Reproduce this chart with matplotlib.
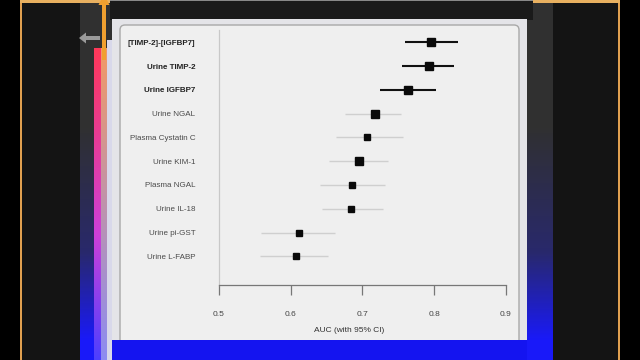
import numpy as np
import matplotlib
matplotlib.use("Agg")
import matplotlib.pyplot as plt
from matplotlib.patches import Rectangle, FancyBboxPatch, FancyArrow

plt.rcParams['font.family'] = ['Liberation Sans', 'DejaVu Sans']

# ---- data ----
markers = ["[TIMP-2]-[IGFBP7]", "Urine TIMP-2", "Urine IGFBP7", "Urine NGAL",
           "Plasma Cystatin C", "Urine KIM-1", "Plasma NGAL", "Urine IL-18",
           "Urine pi-GST", "Urine L-FABP"]
auc = [0.795, 0.792, 0.764, 0.717, 0.706, 0.695, 0.686, 0.684, 0.611, 0.608]
ci_low = [0.759, 0.755, 0.725, 0.676, 0.663, 0.653, 0.641, 0.644, 0.559, 0.557]
ci_high = [0.833, 0.828, 0.803, 0.754, 0.756, 0.736, 0.732, 0.729, 0.662, 0.652]
highlight = [True, True, True, False, False, False, False, False, False, False]
xticks = [0.5, 0.6, 0.7, 0.8, 0.9]
xlabel = "AUC (with 95% CI)"

# style
msizes = [6.2, 6.2, 6.2, 5.6, 5.0, 5.6, 4.6, 5.0, 5.0, 5.0]

W, H = 640, 360
fig = plt.figure(figsize=(6.4, 3.6), dpi=100)
fig.patch.set_facecolor("black")

# ---- background (slide decoration) ----
bg = fig.add_axes([0, 0, 1, 1])
bg.set_xlim(0, W)
bg.set_ylim(H, 0)
bg.axis("off")

bg.add_patch(Rectangle((21, 0), 599, 360, color="#141414", lw=0))
# central gradient gray -> blue
ny = 200
t = np.linspace(0, 1, ny)[:, None]
top = np.array([0.19, 0.19, 0.19])
mid = np.array([0.16, 0.16, 0.42])
bot = np.array([0.10, 0.10, 0.98])
w1 = np.clip((t - 0.35) / 0.35, 0, 1)
w2 = np.clip((t - 0.70) / 0.25, 0, 1)
col = top * (1 - w1) + mid * w1
col = col * (1 - w2) + bot * w2
grad = np.repeat(col[:, None, :], 2, axis=1)
bg.imshow(grad, extent=(80, 553, 360, 0), aspect="auto", zorder=1)

# orange frame lines
bg.add_patch(Rectangle((20, 0), 1.5, 360, color="#e0a050", lw=0, zorder=2))
bg.add_patch(Rectangle((618, 0), 1.5, 360, color="#e0a050", lw=0, zorder=2))
bg.add_patch(Rectangle((20, 0), 90, 3, color="#e8b060", lw=0, zorder=2))
bg.add_patch(Rectangle((533, 0), 87, 3, color="#e8b060", lw=0, zorder=2))
bg.add_patch(Rectangle((110, 0), 423, 20, color="#1a1a1a", lw=0, zorder=2))
bg.add_patch(Rectangle((110, 0), 423, 1.2, color="#888888", lw=0, zorder=2))

# colorful vertical bar on left
nb = 200
tb = np.linspace(0, 1, nb)[:, None]
c_top = np.array([1.0, 0.22, 0.35])
c_mid = np.array([0.80, 0.25, 0.85])
c_bot = np.array([0.30, 0.25, 1.0])
wa = np.clip(tb / 0.6, 0, 1)
wb = np.clip((tb - 0.6) / 0.4, 0, 1)
cb = c_top * (1 - wa) + c_mid * wa
cb = cb * (1 - wb) + c_bot * wb
bar = np.repeat(cb[:, None, :], 2, axis=1)
bg.imshow(bar, extent=(94, 101, 360, 48), aspect="auto", zorder=3)
cl_top = np.array([0.95, 0.60, 0.40])
cl_bot = np.array([0.55, 0.55, 0.95])
cl = cl_top * (1 - tb) + cl_bot * tb
bar2 = np.repeat(cl[:, None, :], 2, axis=1)
bg.imshow(bar2, extent=(101, 107, 360, 48), aspect="auto", zorder=3)
bg.add_patch(Rectangle((107, 40), 5, 320, color="#d8d8ea", lw=0, zorder=3))

# arrows
bg.add_patch(FancyArrow(100, 38, -14, 0, width=4, head_width=11, head_length=7,
                        color="#9a9a9a", lw=0, zorder=4))
bg.add_patch(FancyArrow(104, 60, 0, -55, width=4, head_width=11, head_length=11,
                        color="#f0a030", lw=0, zorder=5))

# panel
bg.add_patch(Rectangle((112, 19), 415, 323, color="#e4e4e8", lw=0, zorder=4))
bg.add_patch(FancyBboxPatch((120, 25), 399, 330,
                            boxstyle="round,pad=0,rounding_size=5",
                            fc="#efefef", ec="#a8a8a8", lw=1.0, zorder=5))
bg.add_patch(Rectangle((112, 340), 415, 20, color="#1414f0", lw=0, zorder=6))

# ---- forest plot ----
left = 219 / W
right = 506 / W
bottom = 1 - 285 / H
topf = 1 - 30 / H
ax = fig.add_axes([left, bottom, right - left, topf - bottom])
ax.set_zorder(10)
ax.patch.set_alpha(0)

y = np.arange(len(markers))
for i in range(len(markers)):
    if highlight[i]:
        ax.plot([ci_low[i], ci_high[i]], [y[i], y[i]], color="#111111", lw=1.5,
                solid_capstyle="butt", zorder=2)
    else:
        ax.plot([ci_low[i], ci_high[i]], [y[i], y[i]], color="#cfcfcf", lw=1.0,
                solid_capstyle="butt", zorder=2)
    ax.plot(auc[i], y[i], marker="s", ms=msizes[i], color="#0a0a0a",
            mec="#0a0a0a", zorder=3)

ax.set_xlim(0.5, 0.9)
ax.set_ylim(len(markers) - 1 + 1.207, -0.517)

for s in ["top", "right"]:
    ax.spines[s].set_visible(False)
ax.spines["left"].set_color("#c8c8c8")
ax.spines["left"].set_linewidth(0.9)
ax.spines["bottom"].set_color("#777777")
ax.spines["bottom"].set_linewidth(0.9)

ax.set_xticks(xticks)
ax.set_xticklabels([f"{v:.1f}" for v in xticks])
ax.tick_params(axis="x", direction="out", length=7.5, width=0.9, color="#777777",
               labelsize=6.0, labelcolor="#444444", pad=11.5)

ax.set_yticks(y)
ax.set_yticklabels(markers)
ax.tick_params(axis="y", length=0, pad=17, labelsize=5.8)
for lab, hl in zip(ax.get_yticklabels(), highlight):
    if hl:
        lab.set_fontweight("bold")
        lab.set_color("#222222")
    else:
        lab.set_color("#4a4a4a")

fig.text(349 / W, 1 - 331 / H, xlabel, ha="center", va="center",
         fontsize=6.0, color="#333333", zorder=20)

fig.savefig("out.png", dpi=100, facecolor=fig.get_facecolor())
